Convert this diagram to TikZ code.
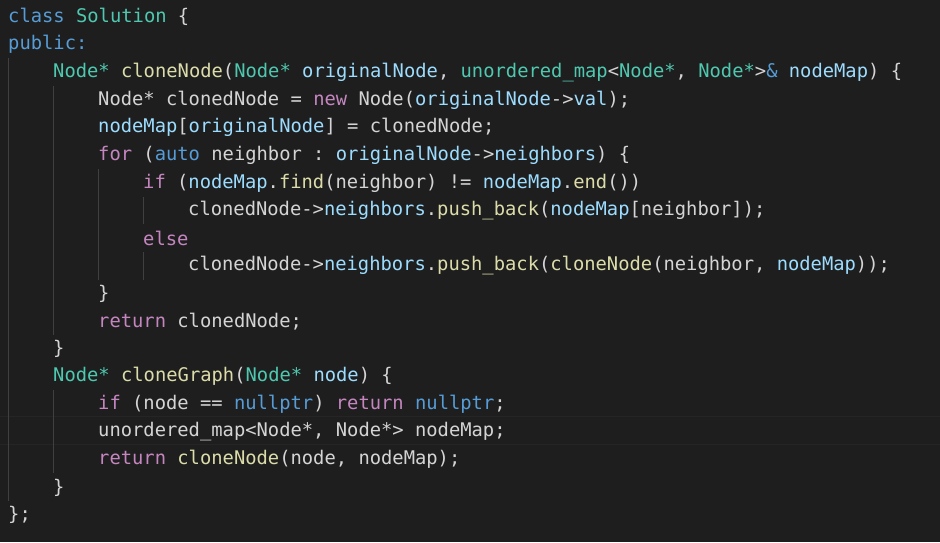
\documentclass[tikz,border=0pt]{standalone}
\usepackage{fontspec}
\setmonofont{DejaVu Sans Mono}
\usepackage{tikz}
\definecolor{bgcol}{HTML}{1E1E1E}
\definecolor{txtcol}{HTML}{D4D4D4}
\definecolor{kwcol}{HTML}{569CD6}
\definecolor{tycol}{HTML}{4EC9B0}
\definecolor{fncol}{HTML}{DCDCAA}
\definecolor{vacol}{HTML}{9CDCFE}
\definecolor{ctcol}{HTML}{C586C0}
\definecolor{guidecol}{HTML}{404040}
\newcommand{\kw}[1]{{\color{kwcol}#1}}
\newcommand{\ty}[1]{{\color{tycol}#1}}
\newcommand{\fn}[1]{{\color{fncol}#1}}
\newcommand{\va}[1]{{\color{vacol}#1}}
\newcommand{\ct}[1]{{\color{ctcol}#1}}
\newcommand{\ar}{-{}>}
\tikzset{codeline/.style={anchor=west, inner sep=0pt, text=txtcol,
    font=\ttfamily\fontsize{18.8}{20}\selectfont}}

\begin{document}
\begin{tikzpicture}[x=1pt, y=1pt]

    \fill[bgcol] (0, 0) rectangle (940, -542);
    \useasboundingbox (0, 0) rectangle (940, -542);

    % ligne courante
    \draw[draw=black!75!white!20!bgcol] (-1, -416.1) rectangle (941, -443.8);

    % guides d'indentation
    \draw[guidecol] (8, -58.2) -- (8, -501.2);
    \draw[guidecol] (53, -86.2) -- (53, -335.2);
    \draw[guidecol] (53, -390.2) -- (53, -473.2);
    \draw[guidecol] (98, -169.2) -- (98, -280.2);
    \draw[guidecol] (143, -197.2) -- (143, -224.2);
    \draw[guidecol] (143, -252.2) -- (143, -280.2);

    \node[codeline] (l1) at (8, -17) {\kw{class} \ty{Solution} \{};
    \node[codeline] (l2) at (8, -44.7) {\kw{public:}};
    \node[codeline] (l3) at (53, -72.3) {\ty{Node*} \fn{cloneNode}(\ty{Node*} \va{originalNode}, \ty{unordered\_map}<\ty{Node*}, \ty{Node*}>\kw{\&} \va{nodeMap}) \{};
    \node[codeline] (l4) at (98, -100) {Node* clonedNode = \ct{new} Node(\va{originalNode}\ar\va{val});};
    \node[codeline] (l5) at (98, -127.7) {\va{nodeMap}[\va{originalNode}] = clonedNode;};
    \node[codeline] (l6) at (98, -155.4) {\ct{for} (\kw{auto} neighbor : \va{originalNode}\ar\va{neighbors}) \{};
    \node[codeline] (l7) at (143, -183) {\ct{if} (\va{nodeMap}.\fn{find}(neighbor) != \va{nodeMap}.\fn{end}())};
    \node[codeline] (l8) at (188, -210.7) {clonedNode\ar\va{neighbors}.\fn{push\_back}(\va{nodeMap}[neighbor]);};
    \node[codeline] (l9) at (143, -238.4) {\ct{else}};
    \node[codeline] (l10) at (188, -266) {clonedNode\ar\va{neighbors}.\fn{push\_back}(\fn{cloneNode}(neighbor, \va{nodeMap}));};
    \node[codeline] (l11) at (98, -293.7) {\}};
    \node[codeline] (l12) at (98, -321.4) {\ct{return} clonedNode;};
    \node[codeline] (l13) at (53, -349) {\}};
    \node[codeline] (l14) at (53, -376.7) {\ty{Node*} \fn{cloneGraph}(\ty{Node*} \va{node}) \{};
    \node[codeline] (l15) at (98, -404.4) {\ct{if} (node == \kw{nullptr}) \ct{return} \kw{nullptr};};
    \node[codeline] (l16) at (98, -432) {unordered\_map<Node*, Node*> nodeMap;};
    \node[codeline] (l17) at (98, -459.7) {\ct{return} \fn{cloneNode}(node, nodeMap);};
    \node[codeline] (l18) at (53, -487.4) {\}};
    \node[codeline] (l19) at (8, -515) {\};};

  \end{tikzpicture}
\end{document}
